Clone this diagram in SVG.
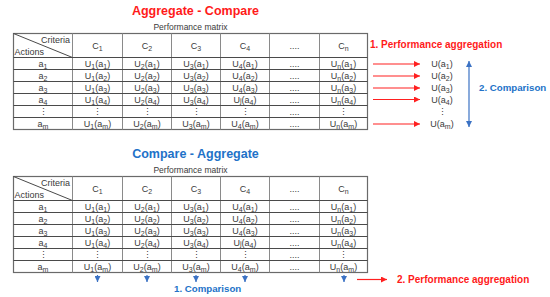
<svg xmlns="http://www.w3.org/2000/svg" width="550" height="297" viewBox="0 0 550 297">
<defs>
<style>
text{font-family:"Liberation Sans",Arial,sans-serif;}
.c{font-size:9px;fill:#3a3a3a;text-anchor:middle;}
.h{font-size:9px;fill:#3a3a3a;}
.s{font-size:7px;}
.pm{font-size:8.5px;fill:#3a3a3a;text-anchor:middle;}
.tr{font-size:12.5px;font-weight:bold;fill:#ff1a1a;text-anchor:middle;}
.tb{font-size:12.5px;font-weight:bold;fill:#2272c8;text-anchor:middle;}
.lr{font-size:10px;font-weight:bold;fill:#ff1a1a;}
.lb{font-size:9.7px;font-weight:bold;fill:#2272c8;}
.v{stroke:#8a8a8a;stroke-width:1;fill:none;}
.hl{stroke:#4a4a4a;stroke-width:1;fill:none;}
.ob{stroke:#6a6a6a;stroke-width:1.2;fill:none;}
.ar{stroke:#ff2020;stroke-width:1.2;fill:none;}
.ab{stroke:#3b72c4;stroke-width:1.2;fill:none;}
</style>
<marker id="mr" viewBox="0 0 10 10" refX="10" refY="5" markerWidth="6" markerHeight="6" markerUnits="userSpaceOnUse" orient="auto"><path d="M0,0 L10,5 L0,10 z" fill="#ff2020"/></marker>
<marker id="mb" viewBox="0 0 10 10" refX="10" refY="5" markerWidth="6" markerHeight="6" markerUnits="userSpaceOnUse" orient="auto-start-reverse"><path d="M0,0 L10,5 L0,10 z" fill="#3b72c4"/></marker>
</defs>
<rect width="550" height="297" fill="#ffffff"/>

<g id="title-top"><text class="tr" x="195.5" y="15">Aggregate - Compare</text></g>
<g id="title-bottom"><text class="tb" x="195.5" y="158">Compare - Aggregate</text></g>

<g id="matrix-top">
<text class="pm" x="190.5" y="29.5">Performance matrix</text>
<rect class="ob" x="13.5" y="33.5" width="354" height="96"/>
<path class="v" d="M72.5,33.5V129.5M122.5,33.5V129.5M171.5,33.5V129.5M220.5,33.5V129.5M269.5,33.5V129.5M319.5,33.5V129.5"/>
<path class="hl" d="M13.5,57.5H367.5M13.5,69.5H367.5M13.5,81.5H367.5M13.5,93.5H367.5M13.5,105.5H367.5M13.5,117.5H367.5"/>
<path class="hl" d="M13.5,33.5L72.5,57.5"/>
<text class="h" x="70" y="43" text-anchor="end">Criteria</text>
<text class="h" x="14.5" y="55">Actions</text>
<text class="c" x="97.5" y="49">C<tspan class="s" dy="2">1</tspan></text>
<text class="c" x="147" y="49">C<tspan class="s" dy="2">2</tspan></text>
<text class="c" x="196" y="49">C<tspan class="s" dy="2">3</tspan></text>
<text class="c" x="245" y="49">C<tspan class="s" dy="2">4</tspan></text>
<text class="c" x="294.5" y="49">....</text>
<text class="c" x="343.5" y="49">C<tspan class="s" dy="2">n</tspan></text>
<text class="c" x="43" y="66.5">a<tspan class="s" dy="2">1</tspan></text>
<text class="c" x="97.5" y="66.5">U<tspan class="s" dy="2">1</tspan><tspan dy="-2">(a</tspan><tspan class="s" dy="2">1</tspan><tspan dy="-2">)</tspan></text>
<text class="c" x="147" y="66.5">U<tspan class="s" dy="2">2</tspan><tspan dy="-2">(a</tspan><tspan class="s" dy="2">1</tspan><tspan dy="-2">)</tspan></text>
<text class="c" x="196" y="66.5">U<tspan class="s" dy="2">3</tspan><tspan dy="-2">(a</tspan><tspan class="s" dy="2">1</tspan><tspan dy="-2">)</tspan></text>
<text class="c" x="245" y="66.5">U<tspan class="s" dy="2">4</tspan><tspan dy="-2">(a</tspan><tspan class="s" dy="2">1</tspan><tspan dy="-2">)</tspan></text>
<text class="c" x="294.5" y="66.5">....</text>
<text class="c" x="343.5" y="66.5">U<tspan class="s" dy="2">n</tspan><tspan dy="-2">(a</tspan><tspan class="s" dy="2">1</tspan><tspan dy="-2">)</tspan></text>
<text class="c" x="43" y="78.5">a<tspan class="s" dy="2">2</tspan></text>
<text class="c" x="97.5" y="78.5">U<tspan class="s" dy="2">1</tspan><tspan dy="-2">(a</tspan><tspan class="s" dy="2">2</tspan><tspan dy="-2">)</tspan></text>
<text class="c" x="147" y="78.5">U<tspan class="s" dy="2">2</tspan><tspan dy="-2">(a</tspan><tspan class="s" dy="2">2</tspan><tspan dy="-2">)</tspan></text>
<text class="c" x="196" y="78.5">U<tspan class="s" dy="2">3</tspan><tspan dy="-2">(a</tspan><tspan class="s" dy="2">2</tspan><tspan dy="-2">)</tspan></text>
<text class="c" x="245" y="78.5">U<tspan class="s" dy="2">4</tspan><tspan dy="-2">(a</tspan><tspan class="s" dy="2">2</tspan><tspan dy="-2">)</tspan></text>
<text class="c" x="294.5" y="78.5">....</text>
<text class="c" x="343.5" y="78.5">U<tspan class="s" dy="2">n</tspan><tspan dy="-2">(a</tspan><tspan class="s" dy="2">2</tspan><tspan dy="-2">)</tspan></text>
<text class="c" x="43" y="90.5">a<tspan class="s" dy="2">3</tspan></text>
<text class="c" x="97.5" y="90.5">U<tspan class="s" dy="2">1</tspan><tspan dy="-2">(a</tspan><tspan class="s" dy="2">3</tspan><tspan dy="-2">)</tspan></text>
<text class="c" x="147" y="90.5">U<tspan class="s" dy="2">2</tspan><tspan dy="-2">(a</tspan><tspan class="s" dy="2">3</tspan><tspan dy="-2">)</tspan></text>
<text class="c" x="196" y="90.5">U<tspan class="s" dy="2">3</tspan><tspan dy="-2">(a</tspan><tspan class="s" dy="2">3</tspan><tspan dy="-2">)</tspan></text>
<text class="c" x="245" y="90.5">U<tspan class="s" dy="2">4</tspan><tspan dy="-2">(a</tspan><tspan class="s" dy="2">3</tspan><tspan dy="-2">)</tspan></text>
<text class="c" x="294.5" y="90.5">....</text>
<text class="c" x="343.5" y="90.5">U<tspan class="s" dy="2">n</tspan><tspan dy="-2">(a</tspan><tspan class="s" dy="2">3</tspan><tspan dy="-2">)</tspan></text>
<text class="c" x="43" y="102.5">a<tspan class="s" dy="2">4</tspan></text>
<text class="c" x="97.5" y="102.5">U<tspan class="s" dy="2">1</tspan><tspan dy="-2">(a</tspan><tspan class="s" dy="2">4</tspan><tspan dy="-2">)</tspan></text>
<text class="c" x="147" y="102.5">U<tspan class="s" dy="2">2</tspan><tspan dy="-2">(a</tspan><tspan class="s" dy="2">4</tspan><tspan dy="-2">)</tspan></text>
<text class="c" x="196" y="102.5">U<tspan class="s" dy="2">3</tspan><tspan dy="-2">(a</tspan><tspan class="s" dy="2">4</tspan><tspan dy="-2">)</tspan></text>
<text class="c" x="245" y="102.5">U<tspan class="s">j</tspan>(a<tspan class="s" dy="2">4</tspan><tspan dy="-2">)</tspan></text>
<text class="c" x="294.5" y="102.5">....</text>
<text class="c" x="343.5" y="102.5">U<tspan class="s" dy="2">n</tspan><tspan dy="-2">(a</tspan><tspan class="s" dy="2">4</tspan><tspan dy="-2">)</tspan></text>
<text class="c" x="43" y="114.5">⋮</text>
<text class="c" x="97.5" y="114.5">⋮</text>
<text class="c" x="147" y="114.5">⋮</text>
<text class="c" x="196" y="114.5">⋮</text>
<text class="c" x="245" y="114.5">⋮</text>
<text class="c" x="294.5" y="114.5">....</text>
<text class="c" x="343.5" y="114.5">⋮</text>
<text class="c" x="43" y="126.5">a<tspan class="s" dy="2">m</tspan></text>
<text class="c" x="97.5" y="126.5">U<tspan class="s" dy="2">1</tspan><tspan dy="-2">(a</tspan><tspan class="s" dy="2">m</tspan><tspan dy="-2">)</tspan></text>
<text class="c" x="147" y="126.5">U<tspan class="s" dy="2">2</tspan><tspan dy="-2">(a</tspan><tspan class="s" dy="2">m</tspan><tspan dy="-2">)</tspan></text>
<text class="c" x="196" y="126.5">U<tspan class="s" dy="2">3</tspan><tspan dy="-2">(a</tspan><tspan class="s" dy="2">m</tspan><tspan dy="-2">)</tspan></text>
<text class="c" x="245" y="126.5">U<tspan class="s" dy="2">4</tspan><tspan dy="-2">(a</tspan><tspan class="s" dy="2">m</tspan><tspan dy="-2">)</tspan></text>
<text class="c" x="294.5" y="126.5">....</text>
<text class="c" x="343.5" y="126.5">U<tspan class="s" dy="2">n</tspan><tspan dy="-2">(a</tspan><tspan class="s" dy="2">m</tspan><tspan dy="-2">)</tspan></text>
</g>

<g id="aggregates-top">
<text class="c" x="442" y="66.5">U(a<tspan class="s" dy="2">1</tspan><tspan dy="-2">)</tspan></text>
<text class="c" x="442" y="78.5">U(a<tspan class="s" dy="2">2</tspan><tspan dy="-2">)</tspan></text>
<text class="c" x="442" y="90.5">U(a<tspan class="s" dy="2">3</tspan><tspan dy="-2">)</tspan></text>
<text class="c" x="442" y="102.5">U(a<tspan class="s" dy="2">4</tspan><tspan dy="-2">)</tspan></text>
<text class="c" x="442" y="114.5">⋮</text>
<text class="c" x="442" y="126.5">U(a<tspan class="s" dy="2">m</tspan><tspan dy="-2">)</tspan></text>
</g>

<g id="label-top-1"><text class="lr" x="370" y="47.5">1. Performance aggregation</text></g>
<g id="label-top-2"><text class="lb" x="479" y="91">2. Comparison</text></g>

<g id="matrix-bottom">
<text class="pm" x="190.5" y="172.5">Performance matrix</text>
<rect class="ob" x="13.5" y="176.5" width="354" height="96"/>
<path class="v" d="M72.5,176.5V272.5M122.5,176.5V272.5M171.5,176.5V272.5M220.5,176.5V272.5M269.5,176.5V272.5M319.5,176.5V272.5"/>
<path class="hl" d="M13.5,200.5H367.5M13.5,212.5H367.5M13.5,224.5H367.5M13.5,236.5H367.5M13.5,248.5H367.5M13.5,260.5H367.5"/>
<path class="hl" d="M13.5,176.5L72.5,200.5"/>
<text class="h" x="70" y="186" text-anchor="end">Criteria</text>
<text class="h" x="14.5" y="198">Actions</text>
<text class="c" x="97.5" y="192">C<tspan class="s" dy="2">1</tspan></text>
<text class="c" x="147" y="192">C<tspan class="s" dy="2">2</tspan></text>
<text class="c" x="196" y="192">C<tspan class="s" dy="2">3</tspan></text>
<text class="c" x="245" y="192">C<tspan class="s" dy="2">4</tspan></text>
<text class="c" x="294.5" y="192">....</text>
<text class="c" x="343.5" y="192">C<tspan class="s" dy="2">n</tspan></text>
<text class="c" x="43" y="209.5">a<tspan class="s" dy="2">1</tspan></text>
<text class="c" x="97.5" y="209.5">U<tspan class="s" dy="2">1</tspan><tspan dy="-2">(a</tspan><tspan class="s" dy="2">1</tspan><tspan dy="-2">)</tspan></text>
<text class="c" x="147" y="209.5">U<tspan class="s" dy="2">2</tspan><tspan dy="-2">(a</tspan><tspan class="s" dy="2">1</tspan><tspan dy="-2">)</tspan></text>
<text class="c" x="196" y="209.5">U<tspan class="s" dy="2">3</tspan><tspan dy="-2">(a</tspan><tspan class="s" dy="2">1</tspan><tspan dy="-2">)</tspan></text>
<text class="c" x="245" y="209.5">U<tspan class="s" dy="2">4</tspan><tspan dy="-2">(a</tspan><tspan class="s" dy="2">1</tspan><tspan dy="-2">)</tspan></text>
<text class="c" x="294.5" y="209.5">....</text>
<text class="c" x="343.5" y="209.5">U<tspan class="s" dy="2">n</tspan><tspan dy="-2">(a</tspan><tspan class="s" dy="2">1</tspan><tspan dy="-2">)</tspan></text>
<text class="c" x="43" y="221.5">a<tspan class="s" dy="2">2</tspan></text>
<text class="c" x="97.5" y="221.5">U<tspan class="s" dy="2">1</tspan><tspan dy="-2">(a</tspan><tspan class="s" dy="2">2</tspan><tspan dy="-2">)</tspan></text>
<text class="c" x="147" y="221.5">U<tspan class="s" dy="2">2</tspan><tspan dy="-2">(a</tspan><tspan class="s" dy="2">2</tspan><tspan dy="-2">)</tspan></text>
<text class="c" x="196" y="221.5">U<tspan class="s" dy="2">3</tspan><tspan dy="-2">(a</tspan><tspan class="s" dy="2">2</tspan><tspan dy="-2">)</tspan></text>
<text class="c" x="245" y="221.5">U<tspan class="s" dy="2">4</tspan><tspan dy="-2">(a</tspan><tspan class="s" dy="2">2</tspan><tspan dy="-2">)</tspan></text>
<text class="c" x="294.5" y="221.5">....</text>
<text class="c" x="343.5" y="221.5">U<tspan class="s" dy="2">n</tspan><tspan dy="-2">(a</tspan><tspan class="s" dy="2">2</tspan><tspan dy="-2">)</tspan></text>
<text class="c" x="43" y="233.5">a<tspan class="s" dy="2">3</tspan></text>
<text class="c" x="97.5" y="233.5">U<tspan class="s" dy="2">1</tspan><tspan dy="-2">(a</tspan><tspan class="s" dy="2">3</tspan><tspan dy="-2">)</tspan></text>
<text class="c" x="147" y="233.5">U<tspan class="s" dy="2">2</tspan><tspan dy="-2">(a</tspan><tspan class="s" dy="2">3</tspan><tspan dy="-2">)</tspan></text>
<text class="c" x="196" y="233.5">U<tspan class="s" dy="2">3</tspan><tspan dy="-2">(a</tspan><tspan class="s" dy="2">3</tspan><tspan dy="-2">)</tspan></text>
<text class="c" x="245" y="233.5">U<tspan class="s" dy="2">4</tspan><tspan dy="-2">(a</tspan><tspan class="s" dy="2">3</tspan><tspan dy="-2">)</tspan></text>
<text class="c" x="294.5" y="233.5">....</text>
<text class="c" x="343.5" y="233.5">U<tspan class="s" dy="2">n</tspan><tspan dy="-2">(a</tspan><tspan class="s" dy="2">3</tspan><tspan dy="-2">)</tspan></text>
<text class="c" x="43" y="245.5">a<tspan class="s" dy="2">4</tspan></text>
<text class="c" x="97.5" y="245.5">U<tspan class="s" dy="2">1</tspan><tspan dy="-2">(a</tspan><tspan class="s" dy="2">4</tspan><tspan dy="-2">)</tspan></text>
<text class="c" x="147" y="245.5">U<tspan class="s" dy="2">2</tspan><tspan dy="-2">(a</tspan><tspan class="s" dy="2">4</tspan><tspan dy="-2">)</tspan></text>
<text class="c" x="196" y="245.5">U<tspan class="s" dy="2">3</tspan><tspan dy="-2">(a</tspan><tspan class="s" dy="2">4</tspan><tspan dy="-2">)</tspan></text>
<text class="c" x="245" y="245.5">U<tspan class="s">j</tspan>(a<tspan class="s" dy="2">4</tspan><tspan dy="-2">)</tspan></text>
<text class="c" x="294.5" y="245.5">....</text>
<text class="c" x="343.5" y="245.5">U<tspan class="s" dy="2">n</tspan><tspan dy="-2">(a</tspan><tspan class="s" dy="2">4</tspan><tspan dy="-2">)</tspan></text>
<text class="c" x="43" y="257.5">⋮</text>
<text class="c" x="97.5" y="257.5">⋮</text>
<text class="c" x="147" y="257.5">⋮</text>
<text class="c" x="196" y="257.5">⋮</text>
<text class="c" x="245" y="257.5">⋮</text>
<text class="c" x="294.5" y="257.5">....</text>
<text class="c" x="343.5" y="257.5">⋮</text>
<text class="c" x="43" y="269.5">a<tspan class="s" dy="2">m</tspan></text>
<text class="c" x="97.5" y="269.5">U<tspan class="s" dy="2">1</tspan><tspan dy="-2">(a</tspan><tspan class="s" dy="2">m</tspan><tspan dy="-2">)</tspan></text>
<text class="c" x="147" y="269.5">U<tspan class="s" dy="2">2</tspan><tspan dy="-2">(a</tspan><tspan class="s" dy="2">m</tspan><tspan dy="-2">)</tspan></text>
<text class="c" x="196" y="269.5">U<tspan class="s" dy="2">3</tspan><tspan dy="-2">(a</tspan><tspan class="s" dy="2">m</tspan><tspan dy="-2">)</tspan></text>
<text class="c" x="245" y="269.5">U<tspan class="s" dy="2">4</tspan><tspan dy="-2">(a</tspan><tspan class="s" dy="2">m</tspan><tspan dy="-2">)</tspan></text>
<text class="c" x="294.5" y="269.5">....</text>
<text class="c" x="343.5" y="269.5">U<tspan class="s" dy="2">n</tspan><tspan dy="-2">(a</tspan><tspan class="s" dy="2">m</tspan><tspan dy="-2">)</tspan></text>
</g>

<g id="label-bottom-1"><text class="lb" x="174" y="291.5">1. Comparison</text></g>
<g id="label-bottom-2"><text class="lr" x="397" y="283">2. Performance aggregation</text></g>

<g id="connectors">
<path class="ar" marker-end="url(#mr)" d="M373,64H420"/>
<path class="ar" marker-end="url(#mr)" d="M373,76H420"/>
<path class="ar" marker-end="url(#mr)" d="M373,88H420"/>
<path class="ar" marker-end="url(#mr)" d="M373,99.5H420"/>
<path class="ar" marker-end="url(#mr)" d="M373,124H420"/>
<path class="ab" marker-start="url(#mb)" marker-end="url(#mb)" d="M469,61V127"/>
<path class="ab" marker-end="url(#mb)" d="M97.5,275V282"/>
<path class="ab" marker-end="url(#mb)" d="M147,275V282"/>
<path class="ab" marker-end="url(#mb)" d="M196,275V282"/>
<path class="ab" marker-end="url(#mb)" d="M245,275V282"/>
<path class="ab" marker-end="url(#mb)" d="M344,275V282"/>
<path class="ar" marker-end="url(#mr)" d="M357,279.5H387"/>
</g>
</svg>
